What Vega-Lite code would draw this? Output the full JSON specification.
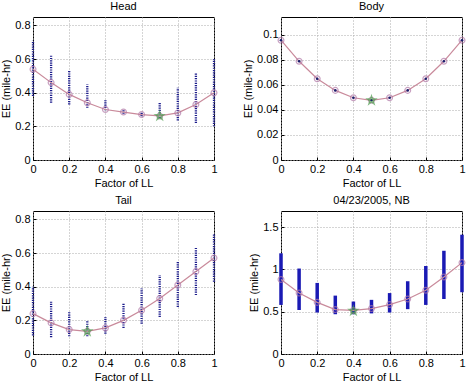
{
  "$schema": "https://vega.github.io/schema/vega-lite/v6.json",
  "background": "white",
  "padding": {"left": 0, "top": 0, "right": 10, "bottom": 3},
  "columns": 2,
  "bounds": "flush",
  "spacing": {"row": 51, "column": 67},
  "config": {
    "font": "Liberation Sans",
    "view": {"stroke": "black", "strokeWidth": 1},
    "title": {"fontSize": 11, "fontWeight": "normal", "color": "black", "offset": 5},
    "axis": {
      "domain": false,
      "grid": true,
      "gridColor": "#aaaaaa",
      "gridDash": [1, 2],
      "gridWidth": 1,
      "tickColor": "black",
      "tickSize": -3,
      "labelPadding": 6,
      "labelFontSize": 11,
      "labelColor": "black",
      "titleFontSize": 11,
      "titleFontWeight": "normal",
      "titleColor": "black",
      "titlePadding": 3,
      "labelFlush": false,
      "labelOverlap": false,
      "format": "~g"
    }
  },
  "datasets": {
    "head": [
      {"x": 0.0, "lo": 0.38, "hi": 0.71, "m": 0.54},
      {"x": 0.1, "lo": 0.34, "hi": 0.62, "m": 0.46},
      {"x": 0.2, "lo": 0.33, "hi": 0.53, "m": 0.39},
      {"x": 0.3, "lo": 0.31, "hi": 0.45, "m": 0.34},
      {"x": 0.4, "lo": 0.295, "hi": 0.355, "m": 0.30},
      {"x": 0.5, "lo": 0.275, "hi": 0.295, "m": 0.285},
      {"x": 0.6, "lo": 0.26, "hi": 0.285, "m": 0.27},
      {"x": 0.7, "lo": 0.25, "hi": 0.34, "m": 0.262, "star": 0.262},
      {"x": 0.8, "lo": 0.235, "hi": 0.43, "m": 0.28},
      {"x": 0.9, "lo": 0.22, "hi": 0.52, "m": 0.33},
      {"x": 1.0, "lo": 0.20, "hi": 0.60, "m": 0.40}
    ],
    "body": [
      {"x": 0.0, "m": 0.0955},
      {"x": 0.1, "m": 0.0787},
      {"x": 0.2, "m": 0.0648},
      {"x": 0.3, "m": 0.0555},
      {"x": 0.4, "m": 0.0496},
      {"x": 0.5, "m": 0.0476, "star": 0.0476},
      {"x": 0.6, "m": 0.0496},
      {"x": 0.7, "m": 0.0555},
      {"x": 0.8, "m": 0.0648},
      {"x": 0.9, "m": 0.0787},
      {"x": 1.0, "m": 0.0955}
    ],
    "tail": [
      {"x": 0.0, "lo": 0.11, "hi": 0.40, "m": 0.24},
      {"x": 0.1, "lo": 0.10, "hi": 0.31, "m": 0.185},
      {"x": 0.2, "lo": 0.105, "hi": 0.25, "m": 0.145},
      {"x": 0.3, "lo": 0.105, "hi": 0.20, "m": 0.135, "star": 0.135},
      {"x": 0.4, "lo": 0.12, "hi": 0.22, "m": 0.155},
      {"x": 0.5, "lo": 0.155, "hi": 0.30, "m": 0.20},
      {"x": 0.6, "lo": 0.18, "hi": 0.39, "m": 0.26},
      {"x": 0.7, "lo": 0.22, "hi": 0.47, "m": 0.33},
      {"x": 0.8, "lo": 0.28, "hi": 0.55, "m": 0.41},
      {"x": 0.9, "lo": 0.35, "hi": 0.63, "m": 0.49},
      {"x": 1.0, "lo": 0.43, "hi": 0.71, "m": 0.57}
    ],
    "nb": [
      {"x": 0.0, "lo": 0.58, "hi": 1.19, "m": 0.88},
      {"x": 0.1, "lo": 0.52, "hi": 1.01, "m": 0.72},
      {"x": 0.2, "lo": 0.49, "hi": 0.84, "m": 0.61},
      {"x": 0.3, "lo": 0.47, "hi": 0.69, "m": 0.525},
      {"x": 0.4, "lo": 0.47, "hi": 0.62, "m": 0.515, "star": 0.51},
      {"x": 0.5, "lo": 0.48, "hi": 0.64, "m": 0.537},
      {"x": 0.6, "lo": 0.49, "hi": 0.72, "m": 0.584},
      {"x": 0.7, "lo": 0.53, "hi": 0.86, "m": 0.65},
      {"x": 0.8, "lo": 0.58, "hi": 1.04, "m": 0.754},
      {"x": 0.9, "lo": 0.65, "hi": 1.22, "m": 0.91},
      {"x": 1.0, "lo": 0.73, "hi": 1.41, "m": 1.08}
    ]
  },
  "concat": [
    {
      "title": "Head",
      "width": 181, "height": 143,
      "data": {"name": "head"},
      "encoding": {
        "x": {"field": "x", "type": "quantitative", "title": "Factor of LL", "scale": {"domain": [0, 1], "nice": false}, "axis": {"values": [0, 0.2, 0.4, 0.6, 0.8, 1]}},
        "y": {"field": "m", "type": "quantitative", "title": "EE (mile-hr)", "scale": {"domain": [0, 0.85], "nice": false}, "axis": {"values": [0, 0.2, 0.4, 0.6, 0.8]}}
      },
      "layer": [
        {"mark": {"type": "rule", "color": "#1c1c8c", "strokeWidth": 2.3, "strokeDash": [1.2, 1.1]},
         "encoding": {"y": {"field": "lo", "type": "quantitative", "title": "EE (mile-hr)", "scale": {"domain": [0, 0.85], "nice": false}, "axis": {"values": [0, 0.2, 0.4, 0.6, 0.8]}}, "y2": {"field": "hi"}}},
        {"mark": {"type": "line", "color": "#c98a9b", "strokeWidth": 1.2}},
        {"mark": {"type": "point", "shape": "circle", "color": "#b27aa8", "size": 34, "strokeWidth": 1.2}},
        {"transform": [{"filter": "datum.star != null"}], "mark": {"type": "point", "shape": "M0,-1L0.2245,-0.309L0.951,-0.309L0.363,0.118L0.588,0.809L0,0.382L-0.588,0.809L-0.363,0.118L-0.951,-0.309L-0.2245,-0.309Z", "color": "#4f9f4f", "filled": false, "strokeWidth": 1.5, "size": 70},
         "encoding": {"y": {"field": "star", "type": "quantitative", "title": "EE (mile-hr)", "scale": {"domain": [0, 0.85], "nice": false}, "axis": {"values": [0, 0.2, 0.4, 0.6, 0.8]}}}}
      ]
    },
    {
      "title": "Body",
      "width": 181, "height": 143,
      "data": {"name": "body"},
      "encoding": {
        "x": {"field": "x", "type": "quantitative", "title": "Factor of LL", "scale": {"domain": [0, 1], "nice": false}, "axis": {"values": [0, 0.2, 0.4, 0.6, 0.8, 1]}},
        "y": {"field": "m", "type": "quantitative", "title": "EE (mile-hr)", "scale": {"domain": [0, 0.114], "nice": false}, "axis": {"values": [0, 0.02, 0.04, 0.06, 0.08, 0.1]}}
      },
      "layer": [
        {"mark": {"type": "line", "color": "#c98a9b", "strokeWidth": 1.2}},
        {"mark": {"type": "point", "shape": "circle", "color": "#b27aa8", "size": 34, "strokeWidth": 1.2}},
        {"mark": {"type": "point", "shape": "circle", "color": "#1c1c6c", "filled": true, "opacity": 1, "size": 7}},
        {"transform": [{"filter": "datum.star != null"}], "mark": {"type": "point", "shape": "M0,-1L0.2245,-0.309L0.951,-0.309L0.363,0.118L0.588,0.809L0,0.382L-0.588,0.809L-0.363,0.118L-0.951,-0.309L-0.2245,-0.309Z", "color": "#4f9f4f", "filled": false, "strokeWidth": 1.5, "size": 70},
         "encoding": {"y": {"field": "star", "type": "quantitative", "title": "EE (mile-hr)", "scale": {"domain": [0, 0.114], "nice": false}, "axis": {"values": [0, 0.02, 0.04, 0.06, 0.08, 0.1]}}}}
      ]
    },
    {
      "title": "Tail",
      "width": 181, "height": 143,
      "data": {"name": "tail"},
      "encoding": {
        "x": {"field": "x", "type": "quantitative", "title": "Factor of LL", "scale": {"domain": [0, 1], "nice": false}, "axis": {"values": [0, 0.2, 0.4, 0.6, 0.8, 1]}},
        "y": {"field": "m", "type": "quantitative", "title": "EE (mile-hr)", "scale": {"domain": [0, 0.85], "nice": false}, "axis": {"values": [0, 0.2, 0.4, 0.6, 0.8]}}
      },
      "layer": [
        {"mark": {"type": "rule", "color": "#1c1c8c", "strokeWidth": 2.3, "strokeDash": [1.2, 1.1]},
         "encoding": {"y": {"field": "lo", "type": "quantitative", "title": "EE (mile-hr)", "scale": {"domain": [0, 0.85], "nice": false}, "axis": {"values": [0, 0.2, 0.4, 0.6, 0.8]}}, "y2": {"field": "hi"}}},
        {"mark": {"type": "line", "color": "#c98a9b", "strokeWidth": 1.2}},
        {"mark": {"type": "point", "shape": "circle", "color": "#b27aa8", "size": 34, "strokeWidth": 1.2}},
        {"transform": [{"filter": "datum.star != null"}], "mark": {"type": "point", "shape": "M0,-1L0.2245,-0.309L0.951,-0.309L0.363,0.118L0.588,0.809L0,0.382L-0.588,0.809L-0.363,0.118L-0.951,-0.309L-0.2245,-0.309Z", "color": "#4f9f4f", "filled": false, "strokeWidth": 1.5, "size": 70},
         "encoding": {"y": {"field": "star", "type": "quantitative", "title": "EE (mile-hr)", "scale": {"domain": [0, 0.85], "nice": false}, "axis": {"values": [0, 0.2, 0.4, 0.6, 0.8]}}}}
      ]
    },
    {
      "title": "04/23/2005, NB",
      "width": 181, "height": 143,
      "data": {"name": "nb"},
      "encoding": {
        "x": {"field": "x", "type": "quantitative", "title": "Factor of LL", "scale": {"domain": [0, 1], "nice": false}, "axis": {"values": [0, 0.2, 0.4, 0.6, 0.8, 1]}},
        "y": {"field": "m", "type": "quantitative", "title": "EE (mile-hr)", "scale": {"domain": [0, 1.69], "nice": false}, "axis": {"values": [0, 0.5, 1, 1.5]}}
      },
      "layer": [
        {"mark": {"type": "rule", "color": "#1a1ab4", "strokeWidth": 3.5},
         "encoding": {"y": {"field": "lo", "type": "quantitative", "title": "EE (mile-hr)", "scale": {"domain": [0, 1.69], "nice": false}, "axis": {"values": [0, 0.5, 1, 1.5]}}, "y2": {"field": "hi"}}},
        {"mark": {"type": "line", "color": "#c98a9b", "strokeWidth": 1.2}},
        {"mark": {"type": "point", "shape": "circle", "color": "#b27aa8", "size": 34, "strokeWidth": 1.2}},
        {"transform": [{"filter": "datum.star != null"}], "mark": {"type": "point", "shape": "M0,-1L0.2245,-0.309L0.951,-0.309L0.363,0.118L0.588,0.809L0,0.382L-0.588,0.809L-0.363,0.118L-0.951,-0.309L-0.2245,-0.309Z", "color": "#4f9f4f", "filled": false, "strokeWidth": 1.5, "size": 70},
         "encoding": {"y": {"field": "star", "type": "quantitative", "title": "EE (mile-hr)", "scale": {"domain": [0, 1.69], "nice": false}, "axis": {"values": [0, 0.5, 1, 1.5]}}}}
      ]
    }
  ]
}
